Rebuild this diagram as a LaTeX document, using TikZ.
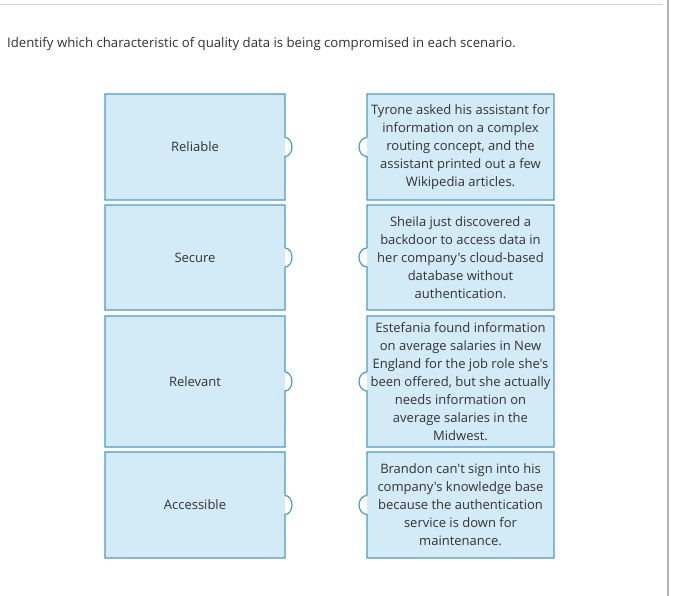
\documentclass[tikz,border=0pt]{standalone}
\usepackage{fontspec}
\setmainfont{Open Sans}[Ligatures=TeXOff]
\usetikzlibrary{calc}
\definecolor{boxfill}{HTML}{D3EAF7}
\definecolor{boxline}{HTML}{4A9BC7}
\definecolor{txt}{HTML}{333333}
\definecolor{rule}{HTML}{D0D0D0}
\tikzset{
  leftbox/.style={fill=boxfill, draw=none, inner sep=0pt, outer sep=0pt, minimum width=180pt, text=txt, font=\fontsize{13}{18}\selectfont, align=center},
  rightbox/.style={fill=boxfill, draw=none, inner sep=0pt, outer sep=0pt, minimum width=187pt, text=txt, font=\fontsize{13}{18}\selectfont, align=center},
  outline/.style={draw=boxline, line width=1.2pt, line join=miter},
}
\begin{document}
\begin{tikzpicture}[x=1pt,y=1pt]
\useasboundingbox[fill=white] (0,0) rectangle (673,596);
% frame lines
\coordinate (t1) at (0,591);
\coordinate (t2) at (663,591);
\draw[rule, line width=1pt] (t1) -- (t2);
\coordinate (r1) at (668,0);
\coordinate (r2) at (668,596);
\draw[rule!85!black, line width=1.5pt] (r1) -- (r2);
% title
\node[anchor=west, text=txt, font=\fontsize{13.2}{16}\selectfont, inner sep=0pt] (title) at (7,552) {Identify which characteristic of quality data is being compromised in each scenario.};
% left boxes
\node[leftbox, minimum height=106pt] (L1) at (195,449) {Reliable};
\node[leftbox, minimum height=105pt] (L2) at (195,338.5) {Secure};
\node[leftbox, minimum height=131pt] (L3) at (195,214.5) {Relevant};
\node[leftbox, minimum height=106pt] (L4) at (195,91) {Accessible};
% right boxes
\node[rightbox, minimum height=106pt] (R1) at (460.5,449) {Tyrone asked his assistant for\\information on a complex\\routing concept, and the\\assistant printed out a few\\Wikipedia articles.};
\node[rightbox, minimum height=105pt] (R2) at (460.5,338.5) {Sheila just discovered a\\backdoor to access data in\\her company's cloud-based\\database without\\authentication.};
\node[rightbox, minimum height=131pt] (R3) at (460.5,214.5) {Estefania found information\\on average salaries in New\\England for the job role she's\\been offered, but she actually\\needs information on\\average salaries in the\\Midwest.};
\node[rightbox, minimum height=106pt] (R4) at (460.5,91) {Brandon can't sign into his\\company's knowledge base\\because the authentication\\service is down for\\maintenance.};
% outlines with tabs
\foreach \n in {L1,L2,L3,L4}{
  \draw[outline] ($(\n.east)+(0,9.5)$) -- (\n.north east) -- (\n.north west) -- (\n.south west) -- (\n.south east) -- ($(\n.east)+(0,-9.5)$) arc[start angle=-90, end angle=90, x radius=7, y radius=9.5];
}
\foreach \n in {R1,R2,R3,R4}{
  \draw[outline] ($(\n.west)+(0,9.5)$) -- (\n.north west) -- (\n.north east) -- (\n.south east) -- (\n.south west) -- ($(\n.west)+(0,-9.5)$) arc[start angle=-90, end angle=-270, x radius=8, y radius=9.5];
}
\end{tikzpicture}
\end{document}
